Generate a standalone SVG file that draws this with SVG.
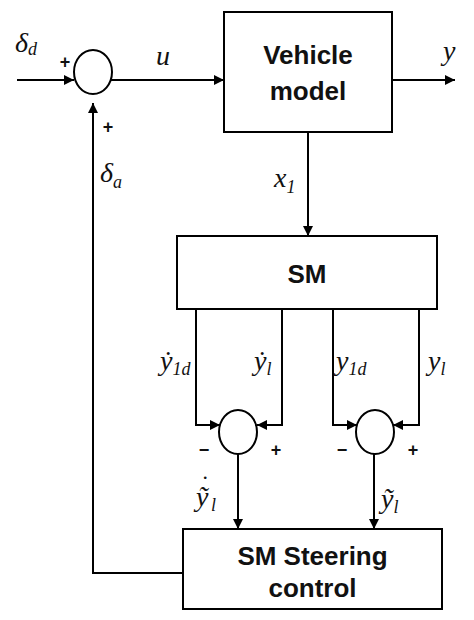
<svg xmlns="http://www.w3.org/2000/svg" width="474" height="620" viewBox="0 0 474 620">
<style>
  .ln{fill:none;stroke:#000;stroke-width:2}
  .box{fill:#fff;stroke:#000;stroke-width:2}
  .lbl{font-family:"Liberation Sans",Arial,sans-serif;font-weight:bold;font-size:26px;text-anchor:middle;fill:#111}
  .m{font-family:"Liberation Serif","Times New Roman","DejaVu Serif",serif;font-style:italic;font-size:28px;fill:#111}
  .s{font-size:18px}
  .sg{font-family:"Liberation Sans",Arial,sans-serif;font-weight:bold;font-size:18px;text-anchor:middle;fill:#111}
</style>
<defs>
  <marker id="ah" viewBox="0 0 10 10" refX="10" refY="5" markerWidth="5.5" markerHeight="5" markerUnits="strokeWidth" orient="auto">
    <path d="M0,0 L10,5 L0,10 z" fill="#000"/>
  </marker>
</defs>
<rect width="474" height="620" fill="#fff"/>

<g id="connectors">
  <path class="ln" d="M17,80 H74" marker-end="url(#ah)"/>
  <path class="ln" d="M111,80 H224" marker-end="url(#ah)"/>
  <path class="ln" d="M392,80 H455" marker-end="url(#ah)"/>
  <path class="ln" d="M308,132 V236" marker-end="url(#ah)"/>
  <path class="ln" d="M183,573 H93 V103" marker-end="url(#ah)"/>
  <path class="ln" d="M196,309 V425 H220" marker-end="url(#ah)"/>
  <path class="ln" d="M282,309 V425 H257" marker-end="url(#ah)"/>
  <path class="ln" d="M333,309 V425 H357" marker-end="url(#ah)"/>
  <path class="ln" d="M419,309 V425 H393" marker-end="url(#ah)"/>
  <path class="ln" d="M238,454 V529" marker-end="url(#ah)"/>
  <path class="ln" d="M374,454 V529" marker-end="url(#ah)"/>
</g>

<g id="sum1">
  <ellipse class="box" cx="93" cy="72" rx="19" ry="22"/>
  <text class="sg" x="65" y="68">+</text>
  <text class="sg" x="108" y="133">+</text>
</g>
<g id="vehicle">
  <rect class="box" x="224" y="12" width="168" height="120"/>
  <text class="lbl" x="308" y="64">Vehicle</text>
  <text class="lbl" x="308" y="100">model</text>
</g>
<g id="sm">
  <rect class="box" x="177" y="236" width="260" height="73"/>
  <text class="lbl" x="307" y="283">SM</text>
</g>
<g id="sum2">
  <ellipse class="box" cx="238" cy="432" rx="19" ry="22"/>
  <text class="sg" x="204" y="456">−</text>
  <text class="sg" x="276" y="456">+</text>
</g>
<g id="sum3">
  <ellipse class="box" cx="375" cy="432" rx="19" ry="22"/>
  <text class="sg" x="342" y="456">−</text>
  <text class="sg" x="413" y="456">+</text>
</g>
<g id="steering">
  <rect class="box" x="183" y="529" width="259" height="80"/>
  <text class="lbl" x="312.5" y="565">SM Steering</text>
  <text class="lbl" x="312.5" y="597">control</text>
</g>

<g id="labels">
  <text class="m" x="15" y="52">δ<tspan class="s" dy="3">d</tspan></text>
  <text class="m" x="156" y="65">u</text>
  <text class="m" x="443" y="60">y</text>
  <text class="m" x="100" y="182">δ<tspan class="s" dy="6">a</tspan></text>
  <text class="m" x="274" y="187">x<tspan class="s" dy="6">1</tspan></text>
  <text class="m" x="160" y="370">ẏ<tspan class="s" dy="5">1d</tspan></text>
  <text class="m" x="254" y="370">ẏ<tspan class="s" dy="5">l</tspan></text>
  <text class="m" x="336" y="370">y<tspan class="s" dy="5">1d</tspan></text>
  <text class="m" x="428" y="370">y<tspan class="s" dy="5">l</tspan></text>
  <text class="m" x="196" y="506">ỹ<tspan x="203" y="479" style="font-size:22px">.</tspan><tspan class="s" x="211" y="511">l</tspan></text>
  <text class="m" x="381" y="508">ỹ<tspan class="s" dy="5">l</tspan></text>
</g>
</svg>
